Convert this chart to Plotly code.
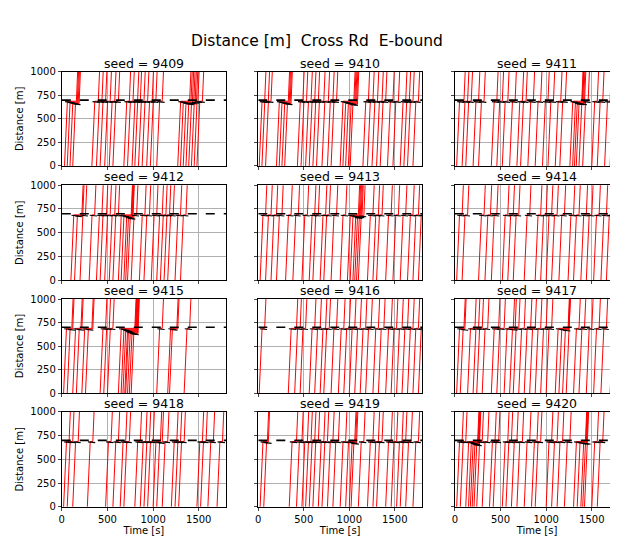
import plotly.graph_objects as go

seeds = [9409, 9410, 9411, 9412, 9413, 9414, 9415, 9416, 9417, 9418, 9419, 9420]
# arrival time at distance 0 [s] and departure time from stop line [s]
arrivals = {
 9409: [30, 60, 90, 120, 330, 380, 420, 470, 520, 560, 680, 720, 770, 800, 840, 880, 930, 970, 1040, 1270, 1300, 1330, 1360, 1390, 1420, 1450, 1480],
 9410: [10, 40, 80, 200, 230, 260, 290, 430, 470, 520, 560, 600, 640, 700, 760, 800, 900, 930, 960, 990, 1010, 1150, 1200, 1250, 1300, 1340, 1420, 1480, 1560, 1600, 1640, 1700],
 9411: [20, 80, 120, 200, 260, 400, 460, 520, 600, 680, 720, 800, 880, 960, 1020, 1100, 1150, 1260, 1290, 1310, 1330, 1360, 1400, 1500, 1560, 1640, 1700],
 9412: [100, 140, 200, 300, 380, 420, 470, 520, 560, 620, 650, 680, 700, 720, 760, 850, 900, 980, 1040, 1080, 1120, 1160, 1240, 1300],
 9413: [20, 80, 140, 200, 300, 380, 480, 560, 600, 680, 720, 800, 900, 980, 1010, 1040, 1060, 1080, 1100, 1200, 1260, 1300, 1400, 1480, 1560, 1640, 1700, 1760],
 9414: [20, 80, 260, 330, 400, 520, 580, 640, 760, 880, 940, 1000, 1060, 1140, 1240, 1300, 1380, 1440, 1520, 1600, 1660, 1720],
 9415: [20, 60, 120, 160, 220, 260, 420, 460, 500, 620, 650, 670, 690, 700, 720, 740, 760, 1040, 1160, 1180, 1340],
 9416: [10, 330, 400, 460, 560, 620, 680, 720, 800, 880, 940, 1000, 1060, 1120, 1180, 1260, 1320, 1400, 1460, 1520, 1580, 1640, 1700, 1760],
 9417: [20, 60, 140, 200, 240, 300, 400, 460, 540, 600, 640, 700, 760, 820, 880, 940, 1000, 1100, 1140, 1180, 1220, 1300, 1360, 1440, 1520, 1600, 1700],
 9418: [20, 60, 120, 280, 480, 560, 640, 680, 800, 860, 900, 940, 1000, 1040, 1100, 1200, 1240, 1280, 1480, 1520, 1600, 1700],
 9419: [20, 60, 340, 420, 480, 520, 560, 600, 660, 700, 760, 820, 900, 960, 1000, 1020, 1100, 1200, 1260, 1300, 1400, 1460, 1520, 1560, 1620, 1700],
 9420: [20, 60, 120, 150, 170, 190, 210, 240, 300, 380, 420, 520, 560, 620, 680, 760, 840, 880, 1000, 1060, 1120, 1200, 1300, 1340, 1380, 1400, 1420, 1500, 1560],
}
departures = {
 9409: [160, 170, 180, 190, 400, 440, 480, 530, 580, 620, 740, 780, 830, 860, 900, 940, 990, 1030, 1100, 1400, 1415, 1430, 1445, 1460, 1475, 1490, 1540],
 9410: [70, 110, 140, 330, 340, 350, 360, 490, 530, 580, 620, 660, 720, 770, 820, 860, 1050, 1060, 1070, 1080, 1090, 1210, 1260, 1310, 1360, 1400, 1480, 1540, 1620, 1660, 1700, 1760],
 9411: [100, 140, 180, 260, 320, 460, 520, 580, 660, 740, 780, 860, 940, 1020, 1080, 1160, 1210, 1390, 1395, 1400, 1410, 1420, 1460, 1560, 1620, 1700, 1760],
 9412: [220, 230, 260, 360, 440, 490, 530, 580, 620, 760, 765, 770, 775, 780, 820, 910, 960, 1040, 1100, 1140, 1180, 1220, 1300, 1360],
 9413: [80, 140, 200, 260, 360, 440, 540, 620, 660, 740, 780, 860, 960, 1100, 1110, 1120, 1130, 1140, 1160, 1260, 1320, 1360, 1460, 1540, 1620, 1700, 1760, 1820],
 9414: [80, 140, 320, 390, 460, 580, 640, 700, 820, 940, 1000, 1060, 1120, 1200, 1300, 1360, 1440, 1500, 1580, 1660, 1720, 1780],
 9415: [110, 120, 210, 220, 330, 340, 480, 520, 560, 800, 805, 810, 815, 820, 825, 830, 835, 1100, 1260, 1270, 1400],
 9416: [70, 420, 460, 520, 620, 680, 740, 780, 860, 940, 1000, 1060, 1120, 1180, 1240, 1320, 1380, 1460, 1520, 1580, 1640, 1700, 1760, 1820],
 9417: [100, 110, 220, 260, 300, 360, 480, 540, 640, 660, 700, 760, 830, 880, 940, 1000, 1060, 1240, 1245, 1250, 1255, 1360, 1420, 1500, 1580, 1660, 1760],
 9418: [80, 120, 180, 340, 540, 620, 700, 740, 860, 920, 960, 1000, 1080, 1100, 1160, 1260, 1300, 1340, 1540, 1580, 1660, 1760],
 9419: [100, 110, 420, 480, 540, 580, 620, 660, 720, 760, 820, 880, 960, 1060, 1070, 1080, 1160, 1260, 1320, 1360, 1460, 1520, 1580, 1620, 1680, 1760],
 9420: [80, 120, 250, 255, 260, 265, 270, 300, 360, 440, 480, 580, 620, 680, 740, 820, 900, 940, 1060, 1120, 1180, 1260, 1430, 1435, 1440, 1445, 1450, 1560, 1620],
}

STOP = 700
T_STOP = 32     # time to reach stop line
T_FREE = 50     # time to cover 0..1100 without stopping
fig = go.Figure()
xdom = [[0.087, 0.353], [0.405, 0.670], [0.723, 0.989]]
ydom = [[0.706, 0.881], [0.493, 0.670], [0.283, 0.458], [0.071, 0.248]]

for i, s in enumerate(seeds):
    r, c = divmod(i, 3)
    n = i + 1
    xa = "x" if n == 1 else f"x{n}"
    ya = "y" if n == 1 else f"y{n}"
    rx, bx, kx, ky = [], [], [], []
    queue_end = []
    for a, d in zip(arrivals[s], departures[s]):
        t_reach = a + T_STOP
        if d > t_reach + 5:
            queue_end = [q for q in queue_end if q > t_reach]
            pos = STOP - 12 - 8 * len(queue_end)
            queue_end.append(d)
            t1 = a + T_STOP * pos / STOP
            rx += [a, t1, d, d + 18, None]
            bx += [0, pos, pos, 1100, None]
            kx += [t1 - 25, t1 + 55, None]
            ky += [pos - 4, pos - 12, None]
        else:
            rx += [a, a + T_FREE, None]
            bx += [0, 1100, None]
    fig.add_trace(go.Scatter(x=rx, y=bx, mode="lines", line=dict(color="red", width=1),
                             xaxis=xa, yaxis=ya, showlegend=False, hoverinfo="skip"))
    fig.add_trace(go.Scatter(x=kx, y=ky, mode="lines", line=dict(color="black", width=1.2),
                             xaxis=xa, yaxis=ya, showlegend=False, hoverinfo="skip"))
    fig.add_trace(go.Scatter(x=[0, 1800], y=[STOP, STOP], mode="lines",
                             line=dict(color="black", width=1.6, dash="dash"),
                             xaxis=xa, yaxis=ya, showlegend=False, hoverinfo="skip"))
    axc = dict(showline=True, linecolor="black", mirror=True, showgrid=True,
               gridcolor="#b0b0b0", ticks="outside", ticklen=3, zeroline=False,
               automargin=False, tickfont=dict(size=10, color="black"))
    xkey = "xaxis" if n == 1 else f"xaxis{n}"
    ykey = "yaxis" if n == 1 else f"yaxis{n}"
    fig.update_layout({
        xkey: dict(axc, domain=xdom[c], range=[0, 1800], tickvals=[0, 500, 1000, 1500],
                   showticklabels=(r == 3), anchor=ya,
                   title=dict(text="Time [s]" if r == 3 else "", font=dict(size=10), standoff=2)),
        ykey: dict(axc, domain=ydom[r], range=[0, 1000], tickvals=[0, 250, 500, 750, 1000],
                   showticklabels=(c == 0), anchor=xa,
                   title=dict(text="Distance [m]" if c == 0 else "", font=dict(size=10), standoff=4)),
    })
    fig.add_annotation(text=f"seed = {s}", x=sum(xdom[c]) / 2, y=ydom[r][1],
                       xref="paper", yref="paper", xanchor="center", yanchor="bottom",
                       showarrow=False, font=dict(size=12.5, color="black"), yshift=-1)

fig.update_layout(
    width=618, height=537, margin=dict(l=0, r=0, t=0, b=0, autoexpand=False),
    paper_bgcolor="white", plot_bgcolor="white",
    font=dict(family="DejaVu Sans", color="black"),
    title=dict(text="Distance [m]  Cross Rd  E-bound", x=0.5, xanchor="center",
               y=0.94, yanchor="middle", automargin=False, font=dict(size=15.5, color="black")),
)
fig.write_html("out.html")
